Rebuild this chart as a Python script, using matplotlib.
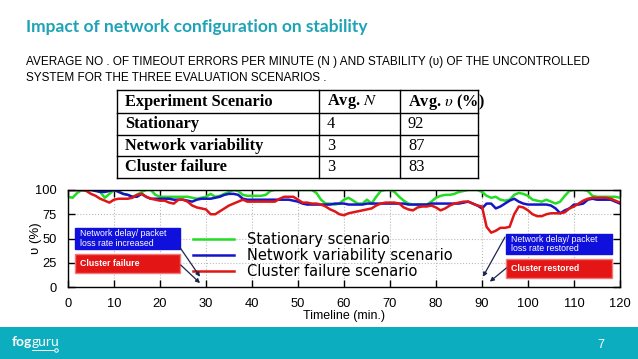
import numpy as np
import matplotlib.pyplot as plt
from matplotlib.patches import Rectangle
from matplotlib.lines import Line2D

W, H = 638, 359

# stability (%) per minute
minutes = list(range(0, 121))
stationary = [93, 92, 97, 100, 100, 100, 100, 98, 92, 96,
              100, 99, 96, 95, 93, 95, 98, 100, 100, 95,
              93, 93, 93, 93, 93, 93, 93, 92, 91, 92,
              93, 96, 93, 94, 96, 98, 100, 99, 95, 94,
              94, 94, 94, 95, 99, 100, 100, 100, 100, 100,
              100, 100, 100, 100, 97, 90, 86, 86, 85, 86,
              90, 92, 89, 86, 86, 90, 86, 93, 99, 100,
              100, 98, 93, 89, 86, 85, 85, 85, 85, 88,
              92, 94, 95, 95, 96, 98, 99, 100, 100, 100,
              98, 94, 92, 93, 90, 89, 90, 95, 97, 96,
              94, 90, 89, 88, 90, 88, 86, 88, 94, 99,
              100, 100, 100, 99, 94, 93, 93, 93, 93, 93,
              92]
network = [100, 100, 100, 100, 100, 100, 99, 98, 98, 99,
           100, 98, 96, 95, 93, 93, 96, 93, 91, 91,
           91, 91, 91, 90, 90, 90, 89, 88, 90, 91,
           91, 91, 92, 93, 95, 96, 96, 95, 91, 90,
           90, 90, 90, 90, 90, 90, 90, 90, 90, 89,
           88, 86, 85, 85, 85, 85, 85, 85, 86, 86,
           86, 85, 85, 85, 85, 86, 86, 86, 86, 86,
           86, 86, 86, 86, 85, 85, 85, 85, 85, 86,
           86, 86, 86, 86, 86, 86, 87, 88, 86, 84,
           81, 86, 86, 81, 83, 86, 89, 91, 88, 86,
           85, 85, 85, 85, 85, 84, 81, 76, 79, 81,
           85, 85, 86, 90, 91, 90, 90, 90, 90, 88,
           86]
cluster = [100, 100, 100, 100, 99, 96, 94, 91, 89, 87,
           90, 91, 91, 91, 92, 95, 96, 93, 91, 90,
           89, 89, 87, 86, 90, 90, 88, 84, 82, 81,
           80, 75, 75, 78, 81, 84, 86, 88, 90, 88,
           88, 88, 88, 88, 88, 88, 91, 93, 93, 93,
           90, 87, 87, 86, 86, 85, 83, 80, 78, 75,
           74, 76, 77, 78, 79, 80, 81, 84, 86, 87,
           87, 87, 86, 82, 80, 79, 82, 83, 83, 84,
           82, 79, 81, 84, 86, 87, 88, 88, 86, 84,
           83, 62, 56, 58, 61, 61, 62, 75, 83, 82,
           79, 75, 73, 73, 75, 76, 76, 76, 77, 81,
           83, 86, 89, 91, 92, 92, 92, 92, 91, 89,
           87]

series_labels = ["Stationary scenario", "Network variability scenario",
                 "Cluster failure scenario"]
series_colors = ["#22dd22", "#1515c8", "#e01515"]

table_header = ["Experiment Scenario", r"Avg. $N$", r"Avg. $\upsilon$ (%)"]
table_rows = [["Stationary", "4", "92"],
              ["Network variability", "3", "87"],
              ["Cluster failure", "3", "83"]]

x_ticks = list(range(0, 121, 10))
y_ticks = [0, 25, 50, 75, 100]

teal = "#0badbe"
plt.rcParams["mathtext.fontset"] = "stix"

fig = plt.figure(figsize=(W / 100, H / 100), dpi=100)

# background layer in pixel coordinates
bg = fig.add_axes([0, 0, 1, 1])
bg.set_xlim(0, W)
bg.set_ylim(H, 0)
bg.axis("off")

bg.text(26, 27, "Impact of network configuration on stability", color="#1ea3b6",
        fontsize=12.5, fontweight="bold", family="Lato", va="center")
bg.text(26, 62, "AVERAGE NO . OF TIMEOUT ERRORS PER MINUTE (N ) AND STABILITY (\u03c5) OF THE UNCONTROLLED",
        fontsize=8.5, family="Liberation Sans", va="center")
bg.text(26, 78, "SYSTEM FOR THE THREE EVALUATION SCENARIOS .",
        fontsize=8.5, family="Liberation Sans", va="center")

# table
col_x = [117, 319, 400, 478]
row_y = [90, 113, 135, 156, 178]
for yy in row_y:
    bg.plot([col_x[0], col_x[-1]], [yy, yy], color="black", lw=1.0)
for xx in col_x:
    bg.plot([xx, xx], [row_y[0], row_y[-1]], color="black", lw=1.0)
for j, txt in enumerate(table_header):
    bg.text(col_x[j] + 8, (row_y[0] + row_y[1]) / 2, txt, fontsize=11.8,
            family="Liberation Serif", fontweight="bold", va="center")
for i, row in enumerate(table_rows):
    yc = (row_y[i + 1] + row_y[i + 2]) / 2
    for j, txt in enumerate(row):
        bg.text(col_x[j] + 8, yc, txt, fontsize=11.8, family="Liberation Serif",
                fontweight="bold" if j == 0 else "normal", va="center")

# footer band
bg.add_patch(Rectangle((0, 327), W, H - 327, color=teal, lw=0))
bg.text(12, 342, "fog", color="white", fontsize=10, family="Lato",
        fontweight="bold", va="center")
bg.text(32, 342, "guru", color="white", fontsize=10, family="Lato", va="center")
bg.plot([32, 55], [350, 350], color="white", lw=0.7)
bg.plot([56], [350], marker="o", ms=2.5, mfc=teal, mec="white", mew=0.7)
bg.text(601, 345, "7", color="white", fontsize=9, family="Liberation Sans",
        va="center", ha="center")

# chart
ax = fig.add_axes([68 / W, (H - 287) / H, 552 / W, 97 / H])
ax.set_zorder(2)
ax.patch.set_alpha(0)
for vals, c, lab in zip([stationary, network, cluster], series_colors, series_labels):
    ax.plot(minutes, vals, color=c, lw=1.8, label=lab)

ax.set_xlim(0, 120)
ax.set_ylim(0, 100)
ax.set_xticks(x_ticks)
ax.set_yticks(y_ticks)
ax.tick_params(direction="in", top=True, right=True, length=5, width=1,
               labelsize=9.3, pad=8)
for lab in ax.get_xticklabels() + ax.get_yticklabels():
    lab.set_family("Liberation Sans")
ax.grid(True, color="#bbbbbb", ls=":", lw=0.8)
for s in ax.spines.values():
    s.set_linewidth(1.0)
ax.set_xlabel("Timeline (min.)", fontsize=9, family="Liberation Sans", labelpad=0)
ax.set_ylabel("\u03c5 (%)", fontsize=9.5, family="Liberation Sans", labelpad=-5)

handles = [Line2D([], [], color=c, lw=1.8) for c in series_colors]
ax.legend(handles, series_labels, loc="upper left", bbox_to_anchor=(186 / W, (H - 225) / H),
          bbox_transform=fig.transFigure, frameon=False, fontsize=10.5,
          handlelength=2.8, handletextpad=0.85, labelspacing=0.06, borderpad=0)

# annotation boxes
boxes = [
    (1.5, 39.2, 22.8, 21.6, "#1010dc", "#1010dc", "Network delay/ packet\nloss rate increased", "normal"),
    (1.5, 14.4, 22.8, 19.6, "#e31515", "#f07a7a", "Cluster failure", "bold"),
    (95.2, 34.0, 23.1, 20.6, "#1010dc", "#1010dc", "Network delay/ packet\nloss rate restored", "normal"),
    (95.2, 9.3, 23.1, 19.6, "#e31515", "#f07a7a", "Cluster restored", "bold"),
]
for x0, y0, w, h, fc, ec, txt, fw in boxes:
    ax.add_patch(Rectangle((x0, y0), w, h, facecolor=fc, edgecolor=ec, lw=1, zorder=5))
    ax.text(x0 + 1.2, y0 + h / 2, txt, color="white", fontsize=6.3, fontweight=fw,
            family="Liberation Sans", va="center", zorder=6, linespacing=1.1)

arrows = [((24.3, 41.0), (28.7, 10.6)),
          ((24.5, 22.7), (28.7, 4.0)),
          ((95.0, 51.5), (90.2, 10.6)),
          ((95.3, 19.6), (91.7, 5.5))]
for start, end in arrows:
    ax.annotate("", xy=end, xytext=start,
                arrowprops=dict(arrowstyle="-|>", color="#1b2550", lw=0.9,
                                mutation_scale=6, shrinkA=0, shrinkB=0), zorder=6)

fig.savefig("out.png", dpi=100)
